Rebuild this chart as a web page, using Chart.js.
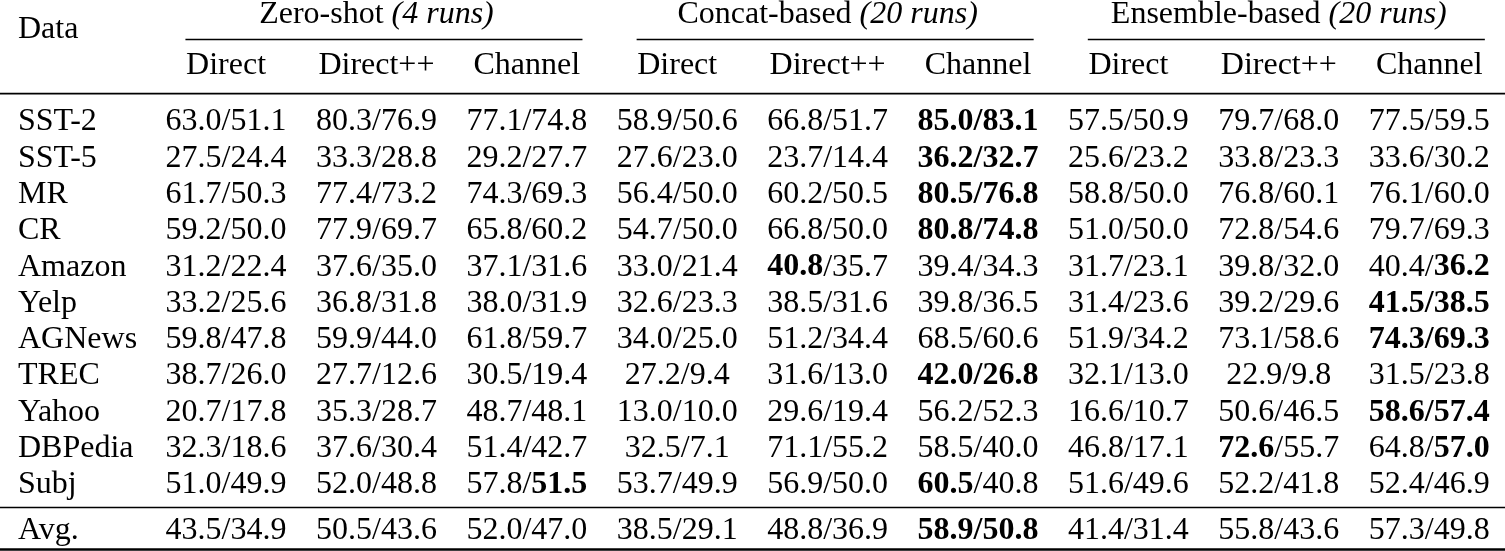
<!DOCTYPE html>
<html>
<head>
<meta charset="utf-8">
<script src="https://cdn.jsdelivr.net/npm/chart.js@4.4.0/dist/chart.umd.min.js"></script>
<style>
  body { margin: 0; background: #fff; }
  #wrap { width: 1505px; height: 551px; }
</style>
</head>
<body>
<div id="wrap"><canvas id="tbl"></canvas></div>
<script>
// table content; '*' marks a bold number
const groups = ['Zero-shot', 'Concat-based', 'Ensemble-based']
const groupNotes = ['(4 runs)', '(20 runs)', '(20 runs)']
const methods = ['Direct', 'Direct++', 'Channel']
const datasets = ['SST-2', 'SST-5', 'MR', 'CR', 'Amazon', 'Yelp', 'AGNews', 'TREC', 'Yahoo', 'DBPedia', 'Subj', 'Avg.']
const cells = [
  ['63.0/51.1', '80.3/76.9', '77.1/74.8', '58.9/50.6', '66.8/51.7', '*85.0/*83.1', '57.5/50.9', '79.7/68.0', '77.5/59.5'],
  ['27.5/24.4', '33.3/28.8', '29.2/27.7', '27.6/23.0', '23.7/14.4', '*36.2/*32.7', '25.6/23.2', '33.8/23.3', '33.6/30.2'],
  ['61.7/50.3', '77.4/73.2', '74.3/69.3', '56.4/50.0', '60.2/50.5', '*80.5/*76.8', '58.8/50.0', '76.8/60.1', '76.1/60.0'],
  ['59.2/50.0', '77.9/69.7', '65.8/60.2', '54.7/50.0', '66.8/50.0', '*80.8/*74.8', '51.0/50.0', '72.8/54.6', '79.7/69.3'],
  ['31.2/22.4', '37.6/35.0', '37.1/31.6', '33.0/21.4', '*40.8/35.7', '39.4/34.3', '31.7/23.1', '39.8/32.0', '40.4/*36.2'],
  ['33.2/25.6', '36.8/31.8', '38.0/31.9', '32.6/23.3', '38.5/31.6', '39.8/36.5', '31.4/23.6', '39.2/29.6', '*41.5/*38.5'],
  ['59.8/47.8', '59.9/44.0', '61.8/59.7', '34.0/25.0', '51.2/34.4', '68.5/60.6', '51.9/34.2', '73.1/58.6', '*74.3/*69.3'],
  ['38.7/26.0', '27.7/12.6', '30.5/19.4', '27.2/9.4', '31.6/13.0', '*42.0/*26.8', '32.1/13.0', '22.9/9.8', '31.5/23.8'],
  ['20.7/17.8', '35.3/28.7', '48.7/48.1', '13.0/10.0', '29.6/19.4', '56.2/52.3', '16.6/10.7', '50.6/46.5', '*58.6/*57.4'],
  ['32.3/18.6', '37.6/30.4', '51.4/42.7', '32.5/7.1', '71.1/55.2', '58.5/40.0', '46.8/17.1', '*72.6/55.7', '64.8/*57.0'],
  ['51.0/49.9', '52.0/48.8', '57.8/*51.5', '53.7/49.9', '56.9/50.0', '*60.5/40.8', '51.6/49.6', '52.2/41.8', '52.4/46.9'],
  ['43.5/34.9', '50.5/43.6', '52.0/47.0', '38.5/29.1', '48.8/36.9', '*58.9/*50.8', '41.4/31.4', '55.8/43.6', '57.3/49.8']
]

const FONT = 'Liberation Serif'
const SIZE = 32

function font (bold, italic) {
  return (italic ? 'italic ' : '') + (bold ? 'bold ' : '') + SIZE + 'px "' + FONT + '"'
}

// draw a list of [text, bold, italic] pieces centred on x
function drawPieces (ctx, pieces, x, y, align) {
  let total = 0
  const widths = pieces.map(p => {
    ctx.font = font(p[1], p[2])
    const w = ctx.measureText(p[0]).width
    total += w
    return w
  })
  let cx = align === 'left' ? x : x - total / 2
  pieces.forEach((p, i) => {
    ctx.font = font(p[1], p[2])
    ctx.fillText(p[0], cx, y)
    cx += widths[i]
  })
}

function cellPieces (s) {
  const parts = s.split('/')
  const a = parts[0]; const b = parts[1]
  return [
    [a.replace('*', ''), a.startsWith('*'), false],
    ['/', a.startsWith('*') && b.startsWith('*'), false],
    [b.replace('*', ''), b.startsWith('*'), false]
  ]
}

function rowY (y, i) {
  // Avg row sits a bit lower, below its rule
  return y.getPixelForValue(i === datasets.length - 1 ? i + 0.25 : i)
}

const tablePlugin = {
  id: 'table',
  afterDraw (chart) {
    const ctx = chart.ctx
    const x = chart.scales.x
    const y = chart.scales.y
    ctx.save()
    ctx.fillStyle = '#000'
    ctx.strokeStyle = '#000'
    ctx.textBaseline = 'middle'

    // header
    drawPieces(ctx, [['Data', false, false]], 18, y.getPixelForValue(-2.55), 'left')
    groups.forEach((g, gi) => {
      const cx = x.getPixelForValue(gi * 3 + 1)
      drawPieces(ctx, [[g + ' ', false, false], [groupNotes[gi], false, true]], cx, y.getPixelForValue(-2.95))
      ctx.lineWidth = 1.5
      ctx.beginPath()
      ctx.moveTo(x.getPixelForValue(gi * 3 - 0.27), y.getPixelForValue(-2.27))
      ctx.lineTo(x.getPixelForValue(gi * 3 + 2.37), y.getPixelForValue(-2.27))
      ctx.stroke()
      methods.forEach((m, mi) => {
        drawPieces(ctx, [[m, false, false]], x.getPixelForValue(gi * 3 + mi), y.getPixelForValue(-1.55))
      })
    })

    // rules
    const rule = (v, w) => {
      ctx.lineWidth = w
      ctx.beginPath()
      ctx.moveTo(0, y.getPixelForValue(v))
      ctx.lineTo(chart.width, y.getPixelForValue(v))
      ctx.stroke()
    }
    rule(-0.78, 1.6)
    rule(10.62, 1.4)
    rule(11.78, 2.6)

    // body
    datasets.forEach((d, ri) => {
      const py = rowY(y, ri)
      drawPieces(ctx, [[d, false, false]], 18, py, 'left')
      cells[ri].forEach((c, ci) => {
        drawPieces(ctx, cellPieces(c), x.getPixelForValue(ci), py)
      })
    })
    ctx.restore()
  }
}

new Chart(document.getElementById('tbl'), {
  type: 'scatter',
  data: { datasets: [{ data: [], pointRadius: 0 }] },
  options: {
    responsive: true,
    maintainAspectRatio: false,
    animation: false,
    layout: { padding: 0 },
    plugins: { legend: { display: false }, tooltip: { enabled: false } },
    scales: {
      x: { type: 'linear', min: -1.503, max: 8.504, display: false },
      y: { type: 'linear', min: -3.36, max: 11.82, reverse: true, display: false }
    }
  },
  plugins: [tablePlugin]
})
</script>
</body>
</html>
